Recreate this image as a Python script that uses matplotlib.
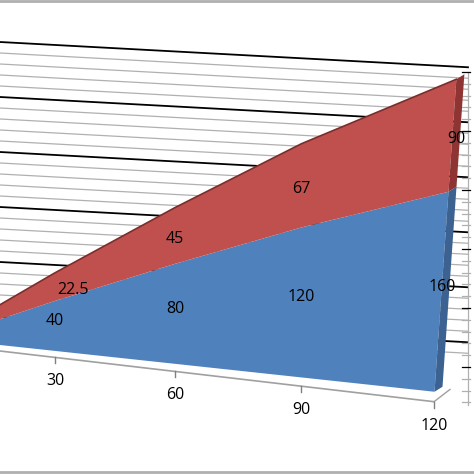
import numpy as np
import matplotlib
matplotlib.use('Agg')
import matplotlib.pyplot as plt
from matplotlib.patches import Polygon

# chart data
x_vals = [0, 30, 60, 90, 120]
blue_vals = [0, 40, 80, 120, 160]
red_vals = [0, 22.5, 45, 67, 90]
tick_vals = [30, 60, 90, 120]

BLUE = '#4f81bd'
RED = '#c0504d'

plt.rc('font', family=['Open Sans', 'DejaVu Sans'], size=11.5)

# crude perspective mapping of the Excel 3D area chart (pixel space)
def px(x):
    n = np.asarray(x, dtype=float) / 30.0
    return -58.5 + 110.25 * n + 3.25 * n ** 2

def base(p):
    return 345 + 0.1076 * p

SCALE = 1.25  # pixels per unit
LEAN = 0.07   # right edge leans to the right going up

def py(x, v):
    p = px(x)
    return base(p) - SCALE * np.asarray(v, dtype=float)

def pxv(x, v):
    # slight lean only for the last category edge
    p = px(x)
    return p + np.where(np.asarray(x) == x_vals[-1], LEAN * SCALE * np.asarray(v, dtype=float), 0)

fig = plt.figure(figsize=(4.74, 4.74), dpi=100)
ax = fig.add_axes([0, 0, 1, 1])
ax.set_xlim(0, 474)
ax.set_ylim(474, 0)
ax.axis('off')

# back wall gridlines
xs = np.array([0, 468])
for i in range(30):
    y0 = 42 + i * 11.0
    if y0 > 330:
        break
    major = i % 5 == 0
    ax.plot(xs, y0 + 0.054 * xs, color='black' if major else '#b0b0b0',
            lw=1.3 if major else 0.9, zorder=1)

# right wall edge with ticks
ax.plot([468, 468], [72, 405], color='#b0b0b0', lw=0.9, zorder=1)
for k, yt in enumerate(np.arange(72, 405, 11.8)):
    ax.plot([462, 470], [yt, yt], color='black' if k % 5 == 0 else '#b0b0b0', lw=0.9, zorder=1)

xarr = np.array(x_vals)
blue = np.array(blue_vals)
red = np.array(red_vals)
top = blue + red

bottom_pts = list(zip(pxv(xarr, 0 * blue), py(xarr, 0)))
blue_pts = list(zip(pxv(xarr, blue), py(xarr, blue)))
top_pts = list(zip(pxv(xarr, top), py(xarr, top)))

ax.add_patch(Polygon(bottom_pts + blue_pts[::-1], closed=True, fc=BLUE, ec='none', zorder=3))
ax.add_patch(Polygon(blue_pts + top_pts[::-1], closed=True, fc=RED, ec='none', zorder=3))
ax.plot(*zip(*top_pts), color='#7a2e2c', lw=1.2, zorder=4)

# right side faces (depth)
dx, dy = 8, -5
b0, b1, b2 = bottom_pts[-1], blue_pts[-1], top_pts[-1]
ax.add_patch(Polygon([b0, (b0[0] + dx, b0[1] + dy), (b1[0] + dx, b1[1] + dy), b1],
                     closed=True, fc='#3c6291', ec='none', zorder=3))
ax.add_patch(Polygon([b1, (b1[0] + dx, b1[1] + dy), (b2[0] + dx, b2[1] + dy), b2],
                     closed=True, fc='#8e3533', ec='none', zorder=3))

# floor / category axis
ax.plot([0, 434], [base(0) + 6, base(434) + 10], color='#a0a0a0', lw=1.2, zorder=2)
ax.plot([434, 450], [base(434) + 10, base(450) - 4], color='#a0a0a0', lw=1.0, zorder=2)
for t in tick_vals:
    p = px(t)
    yy = base(0) + 6 + (base(434) + 4 - base(0)) * p / 434
    ax.plot([p, p], [yy, yy + 6], color='#808080', lw=1.0, zorder=2)
    ax.text(p, yy + 24, str(t), ha='center', va='center', zorder=5)

# data labels
for i in range(1, len(x_vals)):
    last = i == len(x_vals) - 1
    xo = 8 if last else 0
    ax.text(px(x_vals[i]) + xo, py(x_vals[i], blue[i] / 2) - 5, f'{blue_vals[i]:g}',
            ha='center', va='center', zorder=5)
    xo = 22 if last else 18 if i == 1 else 0
    ax.text(px(x_vals[i]) + xo, py(x_vals[i], blue[i] + red[i] / 2) + 3, f'{red_vals[i]:g}',
            ha='center', va='center', zorder=5)

# light frame
ax.plot([0, 474], [1, 1], color='#b0b0b0', lw=2)
ax.plot([0, 474], [472, 472], color='#b0b0b0', lw=2)

fig.savefig('out.png', dpi=100)
